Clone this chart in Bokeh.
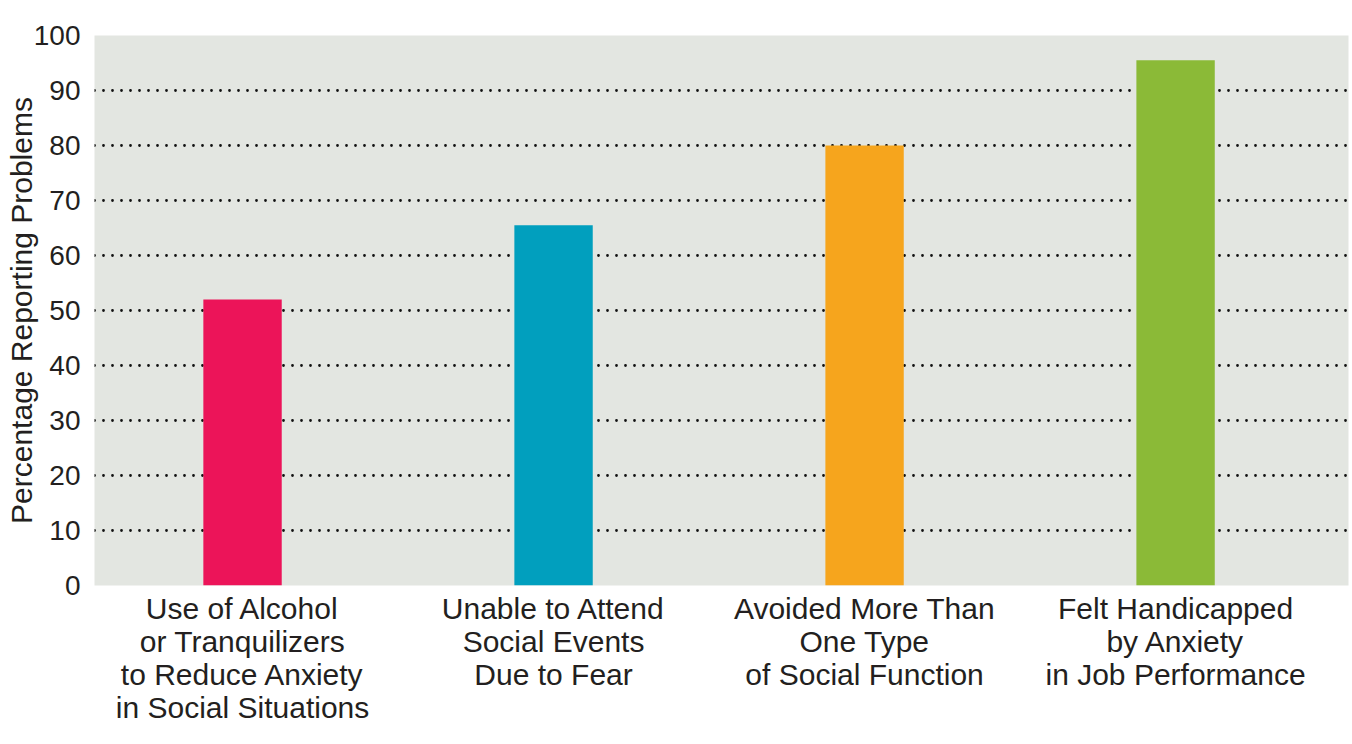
from bokeh.plotting import figure
from bokeh.models import FixedTicker, Range1d
from bokeh.embed import file_html
from bokeh.resources import INLINE

categories = [
    "Use of Alcohol\nor Tranquilizers\nto Reduce Anxiety\nin Social Situations",
    "Unable to Attend\nSocial Events\nDue to Fear",
    "Avoided More Than\nOne Type\nof Social Function",
    "Felt Handicapped\nby Anxiety\nin Job Performance",
]
values = [52, 65.5, 80, 95.5]
colors = ["#ec1459", "#019fbe", "#f6a51d", "#8bba37"]
y_ticks = [0, 10, 20, 30, 40, 50, 60, 70, 80, 90, 100]

xs = list(range(len(categories)))

FONT = "Liberation Sans"
TXT = "#231f20"

p = figure(width=1350, height=740, output_backend="svg", toolbar_location=None,
           x_range=Range1d(-0.476, 3.556), y_range=Range1d(0, 100),
           min_border_left=94, min_border_right=2, min_border_top=35, min_border_bottom=155)

p.background_fill_color = "#e3e6e1"
p.border_fill_color = "white"
p.outline_line_color = None

p.vbar(x=xs, top=values, width=0.252, color=colors, line_color=None)

# grid
p.xgrid.grid_line_color = None
p.ygrid.ticker = FixedTicker(ticks=y_ticks[1:-1])
p.ygrid.grid_line_color = "#111111"
p.ygrid.grid_line_width = 2.8
p.ygrid.grid_line_dash = "0 9"
p.ygrid.grid_line_cap = "round"
p.ygrid.level = "underlay"

# y axis
p.yaxis.ticker = FixedTicker(ticks=y_ticks)
p.yaxis.axis_line_color = None
p.yaxis.major_tick_line_color = None
p.yaxis.minor_tick_line_color = None
p.yaxis.major_label_text_font = FONT
p.yaxis.major_label_text_font_size = "28px"
p.yaxis.major_label_text_color = TXT
p.yaxis.major_label_standoff = 8
p.yaxis.axis_label = "Percentage Reporting Problems"
p.yaxis.axis_label_text_font = FONT
p.yaxis.axis_label_text_font_size = "30px"
p.yaxis.axis_label_text_font_style = "normal"
p.yaxis.axis_label_text_color = TXT
p.yaxis.axis_label_standoff = -7

# x axis
p.xaxis.ticker = FixedTicker(ticks=xs)
p.xaxis.major_label_overrides = {i: c for i, c in zip(xs, categories)}
p.xaxis.axis_line_color = None
p.xaxis.major_tick_line_color = None
p.xaxis.minor_tick_line_color = None
p.xaxis.major_label_text_font = FONT
p.xaxis.major_label_text_font_size = "30px"
p.xaxis.major_label_text_line_height = 1.0
p.xaxis.major_label_text_color = TXT
p.xaxis.major_label_standoff = 0

open("out.html", "w").write(file_html(p, INLINE))
